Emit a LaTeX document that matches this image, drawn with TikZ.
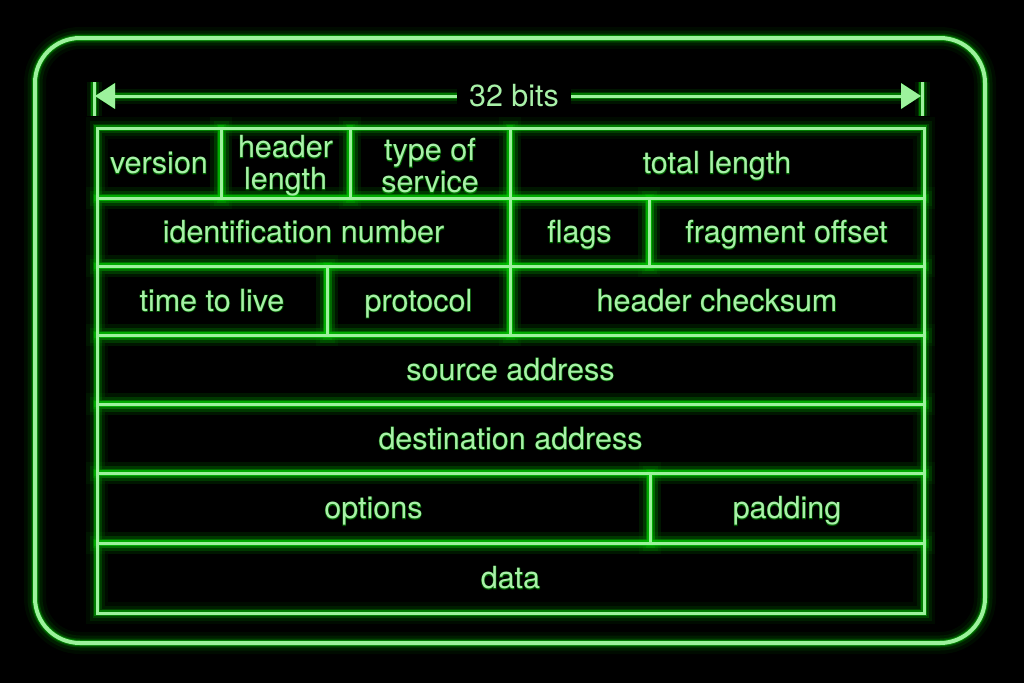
\documentclass[tikz,border=0pt]{standalone}
\usepackage{fontspec}
\setmainfont{TeX Gyre Heros}
\usetikzlibrary{arrows.meta}
\definecolor{neon}{HTML}{9CF29C}
\definecolor{neontext}{HTML}{A8F0A8}
\definecolor{glowc}{HTML}{00C800}
\pgfdeclarelayer{bg}
\pgfdeclarelayer{glow}
\pgfsetlayers{bg,glow,main}
\tikzset{
  core/.style={draw=neon, line width=3pt},
  glow0/.style={draw=glowc, line width=22pt, opacity=0.06},
  glowA/.style={draw=glowc, line width=15pt, opacity=0.10},
  glowB/.style={draw=glowc, line width=9pt, opacity=0.20},
  glowC/.style={draw=glowc, line width=6pt, opacity=0.45},
  lbl/.style={text=neontext, font=\fontsize{30.5}{32}\selectfont, align=center, inner sep=0pt, yshift=-3pt},
  one/.style={text height=22pt, text depth=6.5pt},
  two/.style={},
  lblglow/.style={text=glowc, opacity=0.35, font=\fontsize{30.5}{32}\selectfont\addfontfeature{FakeBold=4}, align=center, inner sep=0pt}
}
\newcommand\ipcell[7][one]{%
  \coordinate (#2-nw) at (#3,#4);
  \coordinate (#2-se) at (#5,#6);
  \node[lbl, #1] (#2) at ({(#3+#5)/2},{(#4+#6)/2}) {#7};
  \begin{pgfonlayer}{glow}
    \foreach \s in {glow0,glowA,glowB,glowC}{\draw[\s] (#2-nw) rectangle (#2-se);}
    \node[lblglow, #1] at (#2) {#7};
  \end{pgfonlayer}
  \draw[core] (#2-nw) rectangle (#2-se);
}
\begin{document}
\begin{tikzpicture}[x=1pt,y=-1pt]
\begin{pgfonlayer}{bg}
\fill[black] (0,0) rectangle (1024,683);
\end{pgfonlayer}
\useasboundingbox (0,0) rectangle (1024,683);

% outer frame
\coordinate (frame-nw) at (35,38);
\coordinate (frame-se) at (985,643);
\begin{pgfonlayer}{glow}
  \foreach \s in {glow0,glowA,glowB,glowC}{\draw[\s, rounded corners=45pt] (frame-nw) rectangle (frame-se);}
\end{pgfonlayer}
\draw[core, line width=4pt, rounded corners=45pt] (frame-nw) rectangle (frame-se);

% 32 bits dimension arrow
\coordinate (lt) at (94,82);
\coordinate (lb) at (94,116);
\coordinate (rt) at (922,82);
\coordinate (rb) at (922,116);
\coordinate (la) at (95,96);
\coordinate (ra) at (921,96);
\node[lbl, one, fill=black, inner xsep=12pt, inner ysep=4pt] (bits) at (514,96) {32 bits};
\begin{pgfonlayer}{glow}
  \foreach \s in {glowA,glowB,glowC}{
    \draw[\s] (lt) -- (lb);
    \draw[\s] (rt) -- (rb);
    \draw[\s, {Triangle[length=20pt,width=25pt]}-] (la) -- (bits.west |- la);
    \draw[\s, -{Triangle[length=20pt,width=25pt]}] (bits.east |- ra) -- (ra);
  }
  \node[lblglow, one] at (bits) {32 bits};
\end{pgfonlayer}
\draw[core] (lt) -- (lb);
\draw[core] (rt) -- (rb);
\draw[core, {Triangle[length=20pt,width=25pt]}-] (la) -- (bits.west |- la);
\draw[core, -{Triangle[length=20pt,width=25pt]}] (bits.east |- ra) -- (ra);

% header rows
\ipcell{ver}{97}{128}{221}{198}{version}
\ipcell[two]{hlen}{221}{128}{350}{198}{header\\length}
\ipcell[two]{tos}{350}{128}{510}{198}{type of\\service}
\ipcell{tlen}{510}{128}{924}{198}{total length}

\ipcell{ident}{97}{198}{510}{266}{identification number}
\ipcell{flags}{510}{198}{649}{266}{flags}
\ipcell{frag}{649}{198}{924}{266}{fragment offset}

\ipcell{ttl}{97}{266}{327}{335}{time to live}
\ipcell{proto}{327}{266}{510}{335}{protocol}
\ipcell{chk}{510}{266}{924}{335}{header checksum}

\ipcell{src}{97}{335}{924}{404}{source address}
\ipcell{dst}{97}{404}{924}{473}{destination address}

\ipcell{opt}{97}{473}{650}{543}{options}
\ipcell{pad}{650}{473}{924}{543}{padding}

\ipcell{data}{97}{543}{924}{613}{data}
\end{tikzpicture}
\end{document}
